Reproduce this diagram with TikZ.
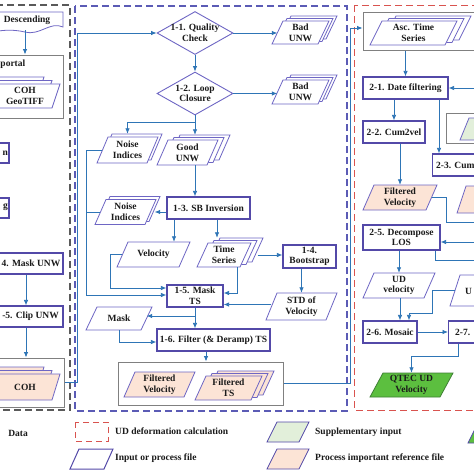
\documentclass[tikz,border=0pt]{standalone}
\usepackage{fontspec}
\setmainfont{Liberation Serif}
\usetikzlibrary{arrows.meta,calc,shapes.geometric}
\definecolor{bord}{HTML}{5349A8}
\definecolor{pbord}{HTML}{6E66C4}
\definecolor{arrc}{HTML}{2E75B6}
\definecolor{peach}{HTML}{FCE4D6}
\definecolor{lgreen}{HTML}{E2EFDA}
\definecolor{qgreen}{HTML}{5CBF3F}
\definecolor{qbord}{HTML}{3F7F35}
\definecolor{graybox}{HTML}{808080}
\definecolor{txt}{HTML}{1A1A1A}
\definecolor{dgray}{HTML}{5A5A5A}
\definecolor{bdash}{HTML}{5B5BB5}
\definecolor{rdash}{HTML}{D9534F}
\newcommand\pshp[6]{%
  \path[#6] ({#1-#3/2-#5/2},{#2+#4/2}) -- ({#1+#3/2-#5/2},{#2+#4/2}) -- ({#1+#3/2+#5/2},{#2-#4/2}) -- ({#1-#3/2+#5/2},{#2-#4/2}) -- cycle;}
\newcommand\pnode[8]{%
  \pshp{#2}{#3}{#4}{#5}{#6}{#7}%
  \node[ptext, minimum width=#4, minimum height=#5] (#1) at (#2,#3) {#8};}
\newcommand\twolay[8]{%
  \pshp{#1+2*(#7)}{#2+2*(#8)}{#3}{#4}{#5}{#6}%
  \pshp{#1+(#7)}{#2+(#8)}{#3}{#4}{#5}{#6}}
\begin{document}
\begin{tikzpicture}[x=1pt,y=-1pt, font=\fontsize{9.5}{10.7}\selectfont\bfseries, text=txt,
 proc/.style={draw=bord, line width=1.2pt, fill=white, inner sep=0pt, align=center},
 cont/.style={draw=graybox, line width=1pt, fill=white, inner sep=0pt},
 ptext/.style={inner sep=0pt, align=center},
 pshape/.style={draw=pbord, line width=0.8pt, fill=white},
 dia/.style={draw=pbord, line width=0.9pt, fill=white, shape=diamond, inner sep=0pt},
 arr/.style={draw=arrc, line width=0.8pt, -{Latex[length=5.5pt,width=4.5pt]}},
 ln/.style={draw=arrc, line width=0.8pt},
 dpanel/.style={line width=1.2pt, dash pattern=on 7pt off 4pt},
]
\useasboundingbox (0,0) rectangle (474,474);
\clip (0,0) rectangle (474,474);
\fill[white] (0,0) rectangle (474,474);

% helper coordinates
\coordinate (x25) at (25,0);
\coordinate (x26) at (26,0);
\coordinate (x77) at (77,0);
\coordinate (x86) at (86,0);
\coordinate (x110) at (110,0);
\coordinate (x174) at (174,0);
\coordinate (x206) at (206,0);
\coordinate (x217) at (217,0);
\coordinate (x350) at (350,0);
\coordinate (x400) at (400,0);
\coordinate (x409) at (409,0);
\coordinate (x435) at (435,0);
\coordinate (x439) at (439,0);
\coordinate (x446) at (446,0);
\coordinate (x458) at (458,0);
\coordinate (rin1) at (480,0);
\coordinate (rin2) at (480,242);
\coordinate (rout1) at (480,222);
\coordinate (rout2) at (480,260);
\coordinate (j1) at (195,122);
\coordinate (mj) at (195,316);
\coordinate (k1) at (432,313);

% panels
\draw[dpanel, draw=dgray] (-10,5) rectangle (70,410);
\draw[dpanel, draw=bdash] (75,6) rectangle (347,411);
\draw[dpanel, draw=rdash, line width=1pt] (354,5) rectangle (490,410);

% ---------- left panel ----------
\path[pshape] (-10,12) -- (63,12) -- (63,27) .. controls (50,21) and (40,36) .. (25,32) .. controls (12,29) and (0,30) .. (-10,33) -- cycle;
\node[ptext, minimum width=72, minimum height=20] (desc) at (27,20) {Descending};
\node[cont, minimum width=68, minimum height=63] (portal) at (29,86.5) {};
\node[ptext, anchor=east] (portalt) at (25.5,64) {portal};
\twolay{25}{96}{62}{24}{8}{pshape}{-8}{-3.5}
\pnode{geo}{25}{96}{62}{24}{8}{pshape}{COH\\GeoTIFF}
\node[proc, minimum width=30, minimum height=20] (lb1) at (-6,153) {};
\node[ptext, anchor=east] at (8,153) {n};
\node[proc, minimum width=30, minimum height=20] (lb2) at (-6,208) {};
\node[ptext, anchor=east] at (8,207) {g};
\node[proc, minimum width=83, minimum height=21] (mu) at (21.5,263.5) {};
\node[ptext, anchor=east] at (60.5,263.5) {4. Mask UNW};
\node[proc, minimum width=83, minimum height=21] (cu) at (21.5,316.5) {};
\node[ptext, anchor=east] at (59,316.5) {-5. Clip UNW};
\node[cont, minimum width=69, minimum height=49] (cohb) at (29.5,382.5) {};
\twolay{25}{387}{62}{26}{8}{pshape, fill=peach}{-8}{-3.5}
\pnode{coh}{25}{387}{62}{26}{8}{pshape, fill=peach}{COH}

\draw[arr] (desc.south -| x25) -- (portal.north -| x25);
\draw[arr] (mu.south -| x26) -- (cu.north -| x26);
\draw[arr] (cu.south -| x26) -- (cohb.north -| x26);

% ---------- middle panel ----------
\node[dia, minimum width=76, minimum height=43] (d1) at (195,33) {};
\node[ptext] at (d1) {1-1. Quality\\Check};
\node[dia, minimum width=76, minimum height=43] (d2) at (195,93.5) {};
\node[ptext] at (d2) {1-2. Loop\\Closure};
\twolay{300.5}{32.5}{46}{23}{11}{pshape}{4}{-2.5}
\pnode{bad1}{300.5}{32.5}{46}{23}{11}{pshape}{Bad\\UNW}
\twolay{300.5}{92}{46}{24}{11}{pshape}{4}{-2.5}
\pnode{bad2}{300.5}{92}{46}{24}{11}{pshape}{Bad\\UNW}
\pshp{131.5}{147}{50}{26}{11}{pshape}
\pnode{ni1}{127.5}{150}{50}{26}{11}{pshape}{Noise\\Indices}
\twolay{187.5}{152.5}{50}{25}{11}{pshape}{6}{-2.5}
\pnode{gu}{187.5}{152.5}{50}{25}{11}{pshape}{Good\\UNW}
\node[proc, minimum width=83, minimum height=22] (sb) at (208.5,208) {1-3. SB Inversion};
\pshp{129.5}{209}{50}{25}{11}{pshape}
\pnode{ni2}{125.5}{212}{50}{25}{11}{pshape}{Noise\\Indices}
\pnode{vel}{153.5}{254.5}{62}{25}{11}{pshape}{Velocity}
\twolay{224}{255}{43}{24}{11}{pshape}{6}{-2.5}
\pnode{ts}{224}{255}{43}{24}{11}{pshape}{Time\\Series}
\node[proc, minimum width=53, minimum height=23] (bs) at (309.5,256.5) {1-4.\\Bootstrap};
\pnode{std}{301.5}{306.5}{60}{27}{11}{pshape}{STD of\\Velocity}
\node[proc, minimum width=56, minimum height=22] (mt) at (195,296) {1-5. Mask\\TS};
\pnode{mask}{119}{318.5}{55}{23}{11}{pshape}{Mask}
\node[proc, minimum width=113, minimum height=22] (fi) at (213.5,340) {1-6. Filter (\& Deramp) TS};
\node[cont, minimum width=165, minimum height=43] (gbo) at (200.5,383.5) {};
\pnode{fvm}{159.5}{384.5}{60}{25}{11}{pshape, fill=peach}{Filtered\\Velocity}
\twolay{228.5}{388}{56}{24}{11}{pshape, fill=peach}{6}{-2.5}
\pnode{fts}{228.5}{388}{56}{24}{11}{pshape, fill=peach}{Filtered\\TS}

\draw[arr] (cohb.east) -- (cohb.east -| x77) |- (d1.west);
\draw[arr] (d1.east) -- (d1.east -| bad1.west);
\draw[arr] (d1.south) -- (d2.north);
\draw[arr] (d2.east) -- (d2.east -| bad2.west);
\draw[arr] (d2.south) -- ($(d2.south |- gu.north)+(0,-5)$);
\draw[arr] (j1) -| ($(ni1.north)+(0,-3)$);
\draw[arr] (gu.south -| d2.south) -- (sb.north -| d2.south);
\draw[arr] (sb.west |- ni2.east) -- ($(ni2.east)+(4,0)$);
\draw[arr] (sb.south -| x174) -- (vel.north -| x174);
\draw[arr] (sb.south -| x217) -- ($(ts.north -| x217)+(0,-5)$);
\draw[arr] ($(ts.east)+(12,0)$) -- (ts.east -| bs.west);
\draw[arr] (bs.south -| std.north) -- (std.north);
\draw[arr] ($(ts.south)+(13,0)$) |- ($(mt.east)+(0,-3)$);
\draw[arr] ($(std.west)+(0,-2)$) -- ($(std.west -| mt.east)+(0,-2)$);
\draw[arr] (vel.west) -- (vel.west -| x110) |- ($(mt.west)+(0,-8)$);
\draw[arr] (ni1.west) -- (ni1.west -| x86) |- ($(mt.west)+(0,-1)$);
\draw[ln] (ni2.west) -- (ni2.west -| x86);
\draw[arr] (mt.south) -- (fi.north -| mt.south);
\draw[arr] (mj) -- (mj -| mask.east);
\draw[arr] (mask.south) |- ($(fi.west)+(0,2)$);
\draw[arr] (fi.south -| x206) -- (gbo.north -| x206);

% ---------- right panel ----------
\node[cont, minimum width=127, minimum height=38] (ascb) at (426.5,31) {};
\twolay{413.5}{33}{75}{24}{12}{pshape}{7}{-2.5}
\pnode{asc}{413.5}{33}{75}{24}{12}{pshape}{Asc. Time\\Series}
\node[proc, minimum width=85, minimum height=22] (df) at (405.5,88) {2-1. Date filtering};
\node[proc, minimum width=62, minimum height=22] (cv) at (394,132) {2-2. Cum2vel};
\node[cont, minimum width=44, minimum height=30] (gbx) at (468,128) {};
\pshp{484.5}{129}{40}{22}{9}{pshape, fill=lgreen}
\node[proc, minimum width=68, minimum height=22, anchor=west] (c3) at (432,165) {};
\node[ptext, anchor=west] at (436,165) {2-3. Cum};
\pnode{fv}{400}{197.5}{63}{25}{11}{pshape, fill=peach}{Filtered\\Velocity}
\pshp{491.5}{199.5}{60}{27}{9}{pshape, fill=peach}
\node[proc, minimum width=77, minimum height=25] (dl) at (401.5,237.5) {2-5. Decompose\\LOS};
\pnode{udv}{399}{285.5}{61}{25}{11}{pshape}{UD\\velocity}
\pnode{rp2}{485}{290.5}{60}{31}{10}{pshape}{}
\node[ptext, anchor=west] at (465,291) {U};
\node[proc, minimum width=54, minimum height=22] (mo) at (390,332) {2-6. Mosaic};
\node[proc, minimum width=52, minimum height=22, anchor=west] (b27) at (448,332) {};
\node[ptext, anchor=west] at (455,332) {2-7.};
\pnode{qt}{411.5}{385}{70}{24}{13}{draw=qbord, line width=0.8pt, fill=qgreen}{QTEC UD\\Velocity}

\draw[arr] (gbo.east) -- (gbo.east -| x350) |- ($(ascb.west)+(0,-3)$);
\draw[arr] (ascb.south -| df.north) -- (df.north);
\draw[arr] (rin1 |- df.east) -- (df.east);
\draw[arr] (df.south -| cv.north) -- (cv.north);
\draw[arr] (df.south -| x439) -- (c3.north -| x439);
\draw[arr] (cv.south -| fv.north) -- (fv.north);
\draw[ln] (fv.east) -- (fv.east -| x446) |- (rout1);
\draw[arr] (rin2) -- (rin2 -| dl.east);
\draw[ln] (dl.south -| x435) |- (rout2);
\draw[arr] (dl.south -| udv.north) -- (udv.north);
\draw[arr] (udv.south -| x400) -- (mo.north -| x400);
\draw[arr] (rp2.west) -| (k1) -| (mo.north -| x409);
\draw[arr] (mo.east) -- (b27.west);
\draw[arr] (b27.south -| x458) |- ($(qt.north)+(0,-16)$) -- (qt.north);

% ---------- legend ----------
\node[ptext, anchor=east] (lraw) at (28,433) {Data};
\draw[draw=rdash, line width=1pt, dash pattern=on 6pt off 4pt] (75,422) rectangle (108,441);
\node[ptext, anchor=west] (l1) at (115,431.5) {UD deformation calculation};
\pshp{91.5}{459}{34}{20}{9}{pshape, draw=bord, line width=1pt}
\node[ptext, anchor=west] (l2) at (115,458.5) {Input or process file};
\pshp{288}{432}{32}{20}{10}{pshape, draw=bord, fill=lgreen}
\node[ptext, anchor=west] (l3) at (315,432) {Supplementary input};
\pshp{288}{459}{32}{20}{10}{pshape, draw=bord, fill=peach}
\node[ptext, anchor=west] (l4) at (315,458.5) {Process important reference file};
\pshp{489}{433}{32}{20}{10}{pshape, draw=bord, fill=qgreen}
\end{tikzpicture}
\end{document}
